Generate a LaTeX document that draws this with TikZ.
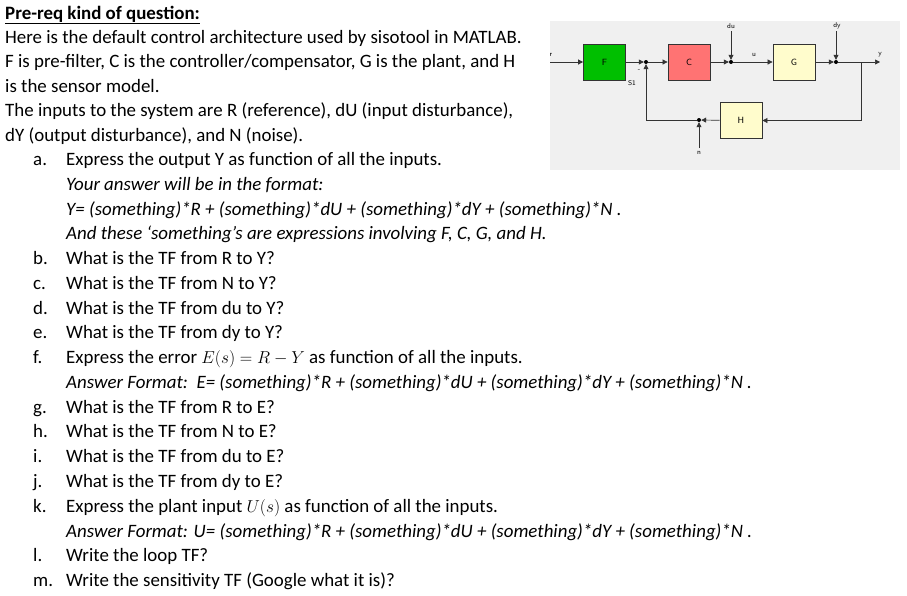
\documentclass[tikz,border=0pt]{standalone}
\usepackage{fontspec}
\setmainfont{Carlito}
\usetikzlibrary{arrows.meta}
\begin{document}
\begin{tikzpicture}[x=1pt,y=-1pt,
  txt/.style={anchor=base west,inner sep=0pt,font=\fontsize{18.9}{22}\selectfont},
  blk/.style={draw=black!80,line width=0.8pt,minimum width=42pt,minimum height=36pt,font=\sffamily\fontsize{9}{10}\selectfont},
  sig/.style={draw=black!80,line width=0.7pt,-{Triangle[length=5pt,width=5pt]}},
  dot/.style={circle,fill=black,inner sep=0pt,minimum size=4pt},
  lab/.style={font=\sffamily\fontsize{7}{8}\selectfont,inner sep=1pt}]
\useasboundingbox (0,0) rectangle (907,595);
\fill[black!6] (550,21) rectangle (900,170);
\node[blk,fill=green!75!black] (F) at (604.5,62) {F};
\node[blk,fill=red!55] (C) at (689,62) {C};
\node[blk,fill=yellow!20] (G) at (794,62) {G};
\node[blk,fill=yellow!20] (H) at (741,120.5) {H};
\node[dot] (s1) at (646,62) {};
\node[dot] (sdu) at (731,62) {};
\node[dot] (sdy) at (836,62) {};
\node[dot] (sn) at (699,120) {};
\coordinate (r0) at (550,62);
\coordinate (yend) at (880,62);
\coordinate (br) at (861,62);
\coordinate (du0) at (731,31);
\coordinate (dy0) at (836,31);
\coordinate (n0) at (699,148);
\node[lab,anchor=south] at (551,58) {r};
\node[lab,anchor=south] at (731,30) {du};
\node[lab,anchor=south] at (837,30) {dy};
\node[lab] at (754,55) {u};
\node[lab,anchor=south] at (880,58) {y};
\node[lab] at (632,83) {S1};
\node[lab] at (639,71) {-};
\node[lab,anchor=north] at (699,150) {n};
\draw[sig] (r0) -- (F);
\draw[sig] (F) -- (s1);
\draw[sig] (s1) -- (C);
\draw[sig] (C) -- (sdu);
\draw[sig] (sdu) -- (G);
\draw[sig] (G) -- (sdy);
\draw[sig] (sdy) -- (yend);
\draw[sig] (du0) -- (sdu);
\draw[sig] (dy0) -- (sdy);
\draw[sig] (br) |- (H);
\draw[sig] (H) -- (sn);
\draw[sig] (n0) -- (sn);
\draw[sig] (sn) -| (s1);
\node[txt,font=\fontsize{18.9}{22}\selectfont\bfseries] at (5,19) {\underline{Pre-req kind of question:}};
\node[txt] at (5,43) {Here is the default control architecture used by sisotool in MATLAB.};
\node[txt] at (5,67) {F is pre-filter, C is the controller/compensator, G is the plant, and H};
\node[txt] at (5,92) {is the sensor model.};
\node[txt] at (5,116) {The inputs to the system are R (reference), dU (input disturbance),};
\node[txt] at (5,141) {dY (output disturbance), and N (noise).};
\foreach \l/\y/\t in {
 a./165/{Express the output Y as function of all the inputs.},
 b./264/{What is the TF from R to Y?},
 c./289/{What is the TF from N to Y?},
 d./314/{What is the TF from du to Y?},
 e./338/{What is the TF from dy to Y?},
 f./363/{Express the error $E(s)=R-Y$ as function of all the inputs.},
 g./413/{What is the TF from R to E?},
 h./437/{What is the TF from N to E?},
 i./462/{What is the TF from du to E?},
 j./487/{What is the TF from dy to E?},
 k./512/{Express the plant input $U(s)$ as function of all the inputs.},
 l./561/{Write the loop TF?},
 m./586/{Write the sensitivity TF (Google what it is)?}}
{ \node[txt] at (33,\y) {\l}; \node[txt] at (66,\y) {\t}; }
\foreach \y/\t in {
 190/{Your answer will be in the format:},
 215/{Y= (something)*R + (something)*dU + (something)*dY + (something)*N .},
 239/{And these ‘something’s are expressions involving F, C, G, and H.},
 388/{Answer Format:\ \ E= (something)*R + (something)*dU + (something)*dY + (something)*N .},
 537/{Answer Format: U= (something)*R + (something)*dU + (something)*dY + (something)*N .}}
{ \node[txt,font=\fontsize{18.9}{22}\selectfont\itshape] at (66,\y) {\t}; }
\end{tikzpicture}
\end{document}
